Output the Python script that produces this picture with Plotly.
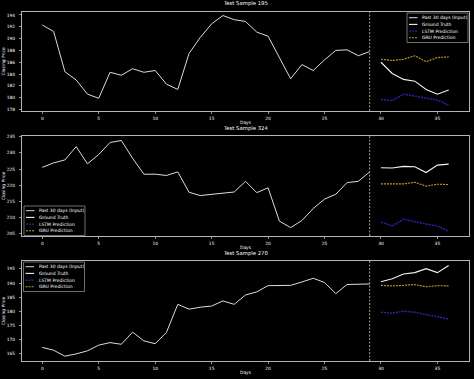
import plotly.graph_objects as go

# ---------------- data ----------------
days_past = list(range(0, 30))
days_future = list(range(30, 37))
x_ticks = [0, 5, 10, 15, 20, 25, 30, 35]

titles = ["Test Sample 195", "Test Sample 324", "Test Sample 270"]

past1 = [192.3, 191.2, 184.4, 183.0, 180.6, 179.9, 184.3, 183.8, 184.9, 184.3,
         184.6, 182.3, 181.4, 187.5, 190.2, 192.5, 193.9, 193.2, 192.9, 191.1,
         190.4, 186.8, 183.2, 185.6, 184.6, 186.4, 188.0, 188.1, 187.1, 187.8]
truth1 = [186.0, 184.1, 183.1, 182.8, 181.4, 180.6, 181.3]
lstm1 = [179.7, 179.5, 180.6, 180.3, 179.9, 179.6, 178.7]
gru1 = [186.5, 186.3, 186.5, 187.1, 186.1, 186.8, 186.9]

past2 = [225.5, 226.9, 227.8, 231.9, 226.6, 229.5, 233.2, 233.8, 228.3, 223.4,
         223.4, 223.0, 224.1, 217.8, 216.8, 217.2, 217.4, 217.9, 221.2, 217.7,
         219.2, 208.9, 206.9, 209.1, 212.8, 215.7, 217.2, 220.8, 221.2, 224.1]
truth2 = [225.4, 225.3, 225.8, 225.7, 223.9, 226.2, 226.5]
lstm2 = [208.6, 207.4, 209.5, 208.7, 208.0, 207.4, 205.7]
gru2 = [220.4, 220.4, 220.4, 220.9, 219.7, 220.3, 220.2]

past3 = [167.3, 166.3, 164.2, 165.0, 166.1, 168.1, 169.0, 168.4, 172.7, 169.6,
         168.6, 172.6, 182.5, 180.8, 181.5, 181.9, 183.7, 182.5, 185.8, 186.9,
         189.1, 189.2, 189.2, 190.4, 191.7, 190.2, 186.3, 189.5, 189.5, 189.7]
truth3 = [190.5, 191.5, 193.2, 193.7, 195.1, 193.7, 196.2]
lstm3 = [179.7, 179.4, 180.1, 179.7, 178.9, 178.1, 177.3]
gru3 = [189.2, 189.0, 189.2, 189.5, 188.7, 189.1, 189.0]

y_ranges = [[177.75, 194.5], [204.3, 235.2], [162.5, 197.8]]
y_ticks = [list(range(178, 195, 2)), list(range(205, 236, 5)), list(range(165, 196, 5))]

legend_labels = ["Past 30 days (Input)", "Ground Truth", "LSTM Prediction", "GRU Prediction"]

# ---------------- layout helpers ----------------
W, H = 474, 379
FONT = "DejaVu Sans"
C_PAST = "#dcdcdc"
C_TRUTH = "#f4f4f4"
C_LSTM = "#2626b4"
C_GRU = "#c09c2a"
C_SPINE = "#b4b4b4"

def px_x(v):
    return v / W

def px_y(v):
    return 1 - v / H

x_dom = [px_x(22), px_x(469)]
tops = [12, 136, 261]
bottoms = [111, 236, 361]

fig = go.Figure()

series = [(past1, truth1, lstm1, gru1), (past2, truth2, lstm2, gru2), (past3, truth3, lstm3, gru3)]

for i, (past, truth, lstm, gru) in enumerate(series):
    n = "" if i == 0 else str(i + 1)
    xa, ya = "x" + n, "y" + n
    fig.add_trace(go.Scatter(x=days_past, y=past, mode="lines", xaxis=xa, yaxis=ya,
                             line=dict(color=C_PAST, width=1), showlegend=False,
                             name=legend_labels[0]))
    fig.add_trace(go.Scatter(x=days_future, y=truth, mode="lines", xaxis=xa, yaxis=ya,
                             line=dict(color=C_TRUTH, width=1.1), showlegend=False,
                             name=legend_labels[1]))
    fig.add_trace(go.Scatter(x=days_future, y=lstm, mode="lines", xaxis=xa, yaxis=ya,
                             line=dict(color=C_LSTM, width=1.4, dash="2px,1px"), showlegend=False,
                             name=legend_labels[2]))
    fig.add_trace(go.Scatter(x=days_future, y=gru, mode="lines", xaxis=xa, yaxis=ya,
                             line=dict(color=C_GRU, width=1.1, dash="2px,1px"), showlegend=False,
                             name=legend_labels[3]))

    axis_common = dict(showgrid=False, zeroline=False, showline=True, mirror=True,
                       linecolor=C_SPINE, linewidth=1, ticks="outside", ticklen=2,
                       tickcolor=C_SPINE, tickwidth=0.8, automargin=False,
                       showspikes=False,
                       tickfont=dict(family=FONT, size=4.4, color="#ffffff"))
    fig.layout["xaxis" + n] = dict(
        axis_common, domain=x_dom, anchor=ya, range=[-1.8, 37.8],
        tickvals=x_ticks, ticktext=[str(t) for t in x_ticks], ticklabelstandoff=1,
        title=dict(text="Days", font=dict(family=FONT, size=4.4, color="#ffffff"), standoff=0))
    fig.layout["yaxis" + n] = dict(
        axis_common, domain=[px_y(bottoms[i]), px_y(tops[i])], anchor=xa,
        range=y_ranges[i], tickvals=y_ticks[i], ticktext=[str(t) for t in y_ticks[i]],
        ticklabelstandoff=3,
        title=dict(text="Closing Price", font=dict(family=FONT, size=4.4, color="#ffffff"), standoff=1))

    # vertical separator at the last input day
    fig.add_shape(type="line", xref=xa, yref=ya + " domain", x0=29, x1=29, y0=0, y1=1,
                  line=dict(color="#a0a0a0", width=1, dash="2px,1.5px"), layer="above")

    # subplot title
    fig.add_annotation(text=titles[i], xref="paper", yref="paper",
                       x=(x_dom[0] + x_dom[1]) / 2, y=px_y(tops[i] - 2.5),
                       xanchor="center", yanchor="bottom", showarrow=False,
                       font=dict(family=FONT, size=5.3, color="#ffffff"))

# ---------------- legends (matplotlib-style boxes) ----------------
legend_boxes = [(407, 13), (24, 206), (23.5, 262)]
legend_styles = [
    dict(color=C_PAST, width=1),
    dict(color=C_TRUTH, width=1.1),
    dict(color=C_LSTM, width=1.4, dash="2px,1px"),
    dict(color=C_GRU, width=1.1, dash="2px,1px"),
]
for (bx, by) in legend_boxes:
    bw, bh = 61, 29.5
    fig.add_shape(type="rect", xref="paper", yref="paper",
                  x0=px_x(bx), x1=px_x(bx + bw), y0=px_y(by + bh), y1=px_y(by),
                  line=dict(color="#8a8a8a", width=0.8), fillcolor="rgba(0,0,0,0.85)",
                  layer="above")
    for k, lab in enumerate(legend_labels):
        cy = by + 4.7 + k * 6.7
        fig.add_shape(type="line", xref="paper", yref="paper",
                      x0=px_x(bx + 2), x1=px_x(bx + 10.5), y0=px_y(cy), y1=px_y(cy),
                      line=legend_styles[k], layer="above")
        fig.add_annotation(text=lab, xref="paper", yref="paper",
                           x=px_x(bx + 13), y=px_y(cy), xanchor="left", yanchor="middle",
                           showarrow=False,
                           font=dict(family=FONT, size=4.5, color="#ffffff"))

fig.update_layout(
    template="none",
    width=W, height=H,
    margin=dict(l=0, r=0, t=0, b=0),
    paper_bgcolor="#000000", plot_bgcolor="#000000",
    font=dict(family=FONT, color="#ffffff"),
    showlegend=False,
    hovermode=False,
    dragmode=False,
)

fig.write_html(
    "out.html",
    config={"displayModeBar": False, "staticPlot": True},
    post_script="document.body.style.margin='0px';document.body.style.padding='0px';"
                "document.body.style.background='#000000';"
                "document.documentElement.style.overflow='hidden';",
)
